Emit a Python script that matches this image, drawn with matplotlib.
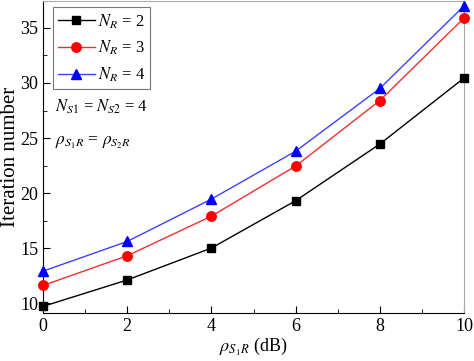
import numpy as np
import matplotlib
matplotlib.use("Agg")
import matplotlib.pyplot as plt
from matplotlib.ticker import MultipleLocator

plt.rcParams['font.family'] = ['Liberation Serif', 'DejaVu Serif']
plt.rcParams['mathtext.fontset'] = 'stix'
plt.rcParams['font.size'] = 12

# data
snr_db = [0, 2, 4, 6, 8, 10]
iter_nr2 = [9.7, 12.1, 15.0, 19.3, 24.45, 30.45]
iter_nr3 = [11.6, 14.3, 17.9, 22.45, 28.4, 35.9]
iter_nr4 = [12.9, 15.6, 19.45, 23.8, 29.5, 37.0]

fig = plt.figure(figsize=(4.74, 3.61), dpi=100)
ax = fig.add_axes([43 / 474, 48 / 361, 421 / 474, 312 / 361])

ax.plot(snr_db, iter_nr2, color='black', lw=1, marker='s', ms=5.8, label=r'$N_R$ = 2', clip_on=False, zorder=3)
ax.plot(snr_db, iter_nr3, color='#f03030', lw=1, marker='o', ms=6.8, mfc='red', mec='red', label=r'$N_R$ = 3', clip_on=False, zorder=3)
ax.plot(snr_db, iter_nr4, color='#4040ff', lw=1, marker='^', ms=7, mfc='blue', mec='blue', label=r'$N_R$ = 4', clip_on=False, zorder=3)

ax.set_xlim(0, 10)
ax.set_ylim(9.1, 37.45)
ax.xaxis.set_major_locator(MultipleLocator(2))
ax.xaxis.set_minor_locator(MultipleLocator(1))
ax.yaxis.set_major_locator(MultipleLocator(5))
ax.yaxis.set_minor_locator(MultipleLocator(2.5))
ax.tick_params(which='both', direction='in', labelsize=13)
ax.tick_params(which='major', length=5)
ax.tick_params(which='minor', length=3)
for s in ['top', 'right']:
    ax.spines[s].set_color('#aaaaaa')

ax.set_xlabel(r'$\rho_{S_1R}$ (dB)', fontsize=13, labelpad=1)
ax.set_ylabel('Iteration number', fontsize=15, labelpad=0)

leg = ax.legend(loc='upper left', bbox_to_anchor=(0.024, 0.98), fontsize=12, frameon=True,
                fancybox=False, edgecolor='#555555', handlelength=2.2, handletextpad=0.2,
                borderpad=0.3, labelspacing=0.5, borderaxespad=0)
leg.get_frame().set_linewidth(0.8)

ax.text(0.028, 0.66, r'$N_{S1}$ = $N_{S2}$ = 4', transform=ax.transAxes, fontsize=12, va='center')
ax.text(0.028, 0.545, r'$\rho_{S_1R}$ = $\rho_{S_2R}$', transform=ax.transAxes, fontsize=12.5, va='center')

fig.savefig('out.png', dpi=100)
